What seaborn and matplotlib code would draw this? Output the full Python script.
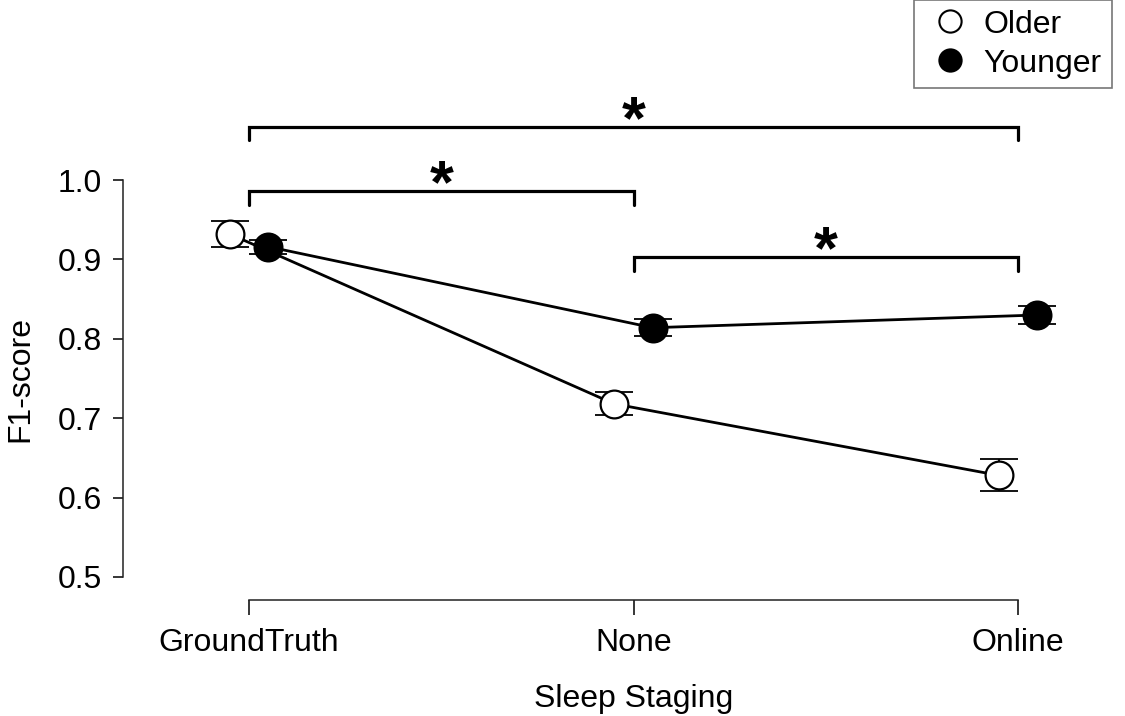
import pandas as pd
import seaborn as sns
from matplotlib import pyplot as plt
from matplotlib.lines import Line2D

# values
stages = ["GroundTruth", "None", "Online"]
groups = ["Older", "Younger"]
older_mean = [0.932, 0.718, 0.628]
older_err = [0.016, 0.0145, 0.020]
younger_mean = [0.916, 0.814, 0.830]
younger_err = [0.009, 0.011, 0.011]

# significance brackets: (left stage, right stage, bracket height)
comparisons = [("GroundTruth", "Online", 1.067),
               ("GroundTruth", "None", 0.986),
               ("None", "Online", 0.903)]

data = pd.DataFrame({
    "Sleep Staging": stages * 2,
    "Group": ["Older"] * 3 + ["Younger"] * 3,
    "F1-score": older_mean + younger_mean,
    "err": older_err + younger_err,
})

sns.set_style("ticks")
plt.rcParams["font.family"] = ["Liberation Sans", "DejaVu Sans"]
for key in ["text.color", "axes.labelcolor", "xtick.color", "ytick.color"]:
    plt.rcParams[key] = "black"

fig = plt.figure(figsize=(11.25, 7.16), dpi=100)
ax = fig.add_axes([0.1093, 0.162, 0.8329, 0.6983])
xmin, xmax, ymin, ymax = -0.328, 2.109, 0.471, 1.1008

sns.pointplot(data, x="Sleep Staging", y="F1-score", hue="Group", order=stages,
              hue_order=groups, palette={"Older": "black", "Younger": "black"},
              dodge=0.1, errorbar=None, markers="o", linestyles="-",
              markersize=20, markeredgewidth=1.6, linewidth=2, legend=False, ax=ax)

# style the point lines and add the error bars behind them
for line, grp in zip(ax.lines[:2], groups):
    line.set_markeredgecolor("black")
    line.set_markerfacecolor("white" if grp == "Older" else "black")
    line.set_zorder(3 if grp == "Older" else 4)
    sub = data[data["Group"] == grp]
    ax.errorbar(line.get_xdata(), sub["F1-score"], yerr=sub["err"], fmt="none",
                ecolor="black", elinewidth=1.3, capsize=13.5, capthick=1.3, zorder=2)

ax.set_xlim(xmin, xmax)
ax.set_ylim(ymin, ymax)
ax.set_yticks([0.5, 0.6, 0.7, 0.8, 0.9, 1.0])
ax.spines[["top", "right"]].set_visible(False)
ax.spines["left"].set_bounds(0.5, 1.0)
ax.spines["bottom"].set_bounds(0, 2)
for s in ["left", "bottom"]:
    ax.spines[s].set_linewidth(1.1)
    ax.spines[s].set_color("#222222")
ax.tick_params(axis="y", length=7, width=1.1, pad=8, labelsize=23)
ax.tick_params(axis="x", length=11, width=1.1, pad=9, labelsize=23)
ax.set_xlabel("Sleep Staging", fontsize=23, labelpad=19)
ax.set_ylabel("F1-score", fontsize=23, labelpad=16)
# R-style: labels centred on the axis extent, not the plotting region
ax.xaxis.label.set_x((1 - xmin) / (xmax - xmin))
ax.yaxis.label.set_y((0.75 - ymin) / (ymax - ymin))

# significance brackets
for left, right, h in comparisons:
    x0, x1 = stages.index(left), stages.index(right)
    ax.plot([x0, x0, x1, x1], [h - 0.017, h, h, h - 0.017], color="black",
            lw=2.3, clip_on=False, solid_joinstyle="miter")
    ax.text((x0 + x1) / 2, h - 0.014, "*", ha="center", va="baseline",
            fontsize=44, fontweight="bold", clip_on=False)

handles = [Line2D([], [], marker="o", ls="", markersize=16, markeredgewidth=1.5,
                  markeredgecolor="black", markerfacecolor=c) for c in ["white", "black"]]
leg = fig.legend(handles, groups, loc="upper right", bbox_to_anchor=(0.988, 1.0),
                 fontsize=23, frameon=True, fancybox=False, handletextpad=0.24,
                 handlelength=1.65, borderpad=0.3, labelspacing=0.28, borderaxespad=0)
leg.get_frame().set_edgecolor("#555555")
leg.get_frame().set_linewidth(1.2)

fig.savefig("out.png", dpi=100)
